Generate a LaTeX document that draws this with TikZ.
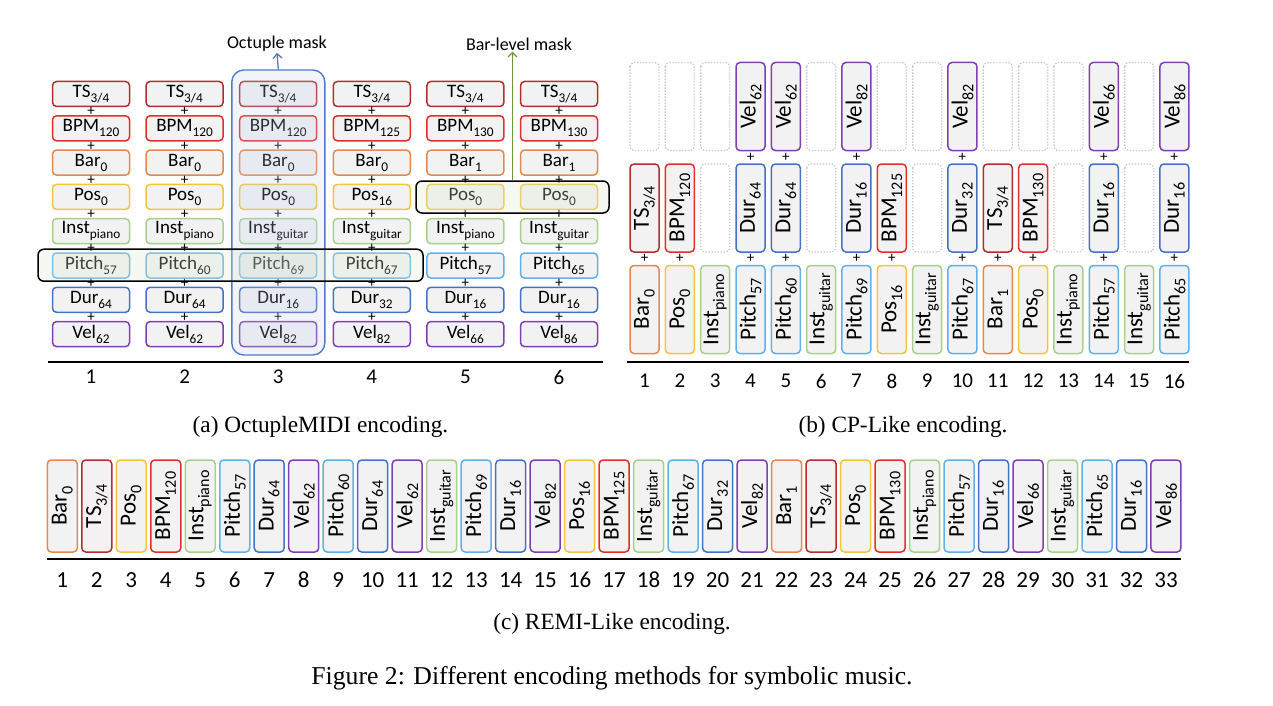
\documentclass[tikz,border=0pt]{standalone}
\usepackage{fontspec}
\setmainfont{Liberation Serif}
\newfontfamily\calfont{Carlito}
\usetikzlibrary{arrows.meta}
\definecolor{cTS}{HTML}{B22E2E}
\definecolor{cBPM}{HTML}{E0302A}
\definecolor{cBar}{HTML}{E3894F}
\definecolor{cPos}{HTML}{F2C53D}
\definecolor{cInst}{HTML}{A9CF8C}
\definecolor{cPitch}{HTML}{62B0E8}
\definecolor{cDur}{HTML}{4472C4}
\definecolor{cVel}{HTML}{7F3FB0}
\definecolor{cFill}{HTML}{F2F2F2}
\definecolor{octblue}{HTML}{4F7BC8}
\definecolor{maskgreen}{HTML}{DCEBCF}
\definecolor{arrgreen}{HTML}{6A9A3E}
\newcommand\sbx[1]{\raisebox{-0.25em}{\scalebox{0.7}{#1}}}
\newcommand\labTS[1]{TS\sbx{3/4}}
\newcommand\labBPM[1]{BPM\sbx{#1}}
\newcommand\labBar[1]{Bar\sbx{#1}}
\newcommand\labPos[1]{Pos\sbx{#1}}
\newcommand\labInst[1]{Inst\sbx{#1}}
\newcommand\labPitch[1]{Pitch\sbx{#1}}
\newcommand\labDur[1]{Dur\sbx{#1}}
\newcommand\labVel[1]{Vel\sbx{#1}}
\newcommand\labE[1]{}
\def\Eword{E}
\tikzset{
  tok/.style={draw, rounded corners=4pt, line width=1.5pt, fill=cFill, inner sep=0pt, text=black},
  kTS/.style={draw=cTS}, kBPM/.style={draw=cBPM}, kBar/.style={draw=cBar},
  kPos/.style={draw=cPos}, kInst/.style={draw=cInst}, kPitch/.style={draw=cPitch},
  kDur/.style={draw=cDur}, kVel/.style={draw=cVel},
  kE/.style={draw=gray!45, dash pattern=on 1.3pt off 1.7pt, line width=1.3pt, fill=none},
  abox/.style={tok, minimum width=77pt, minimum height=25pt, font=\calfont\fontsize{19}{21}\selectfont},
  bbox/.style={tok, minimum width=88pt, minimum height=29pt, rotate=90, font=\calfont\fontsize{23}{25}\selectfont},
  cbox/.style={tok, minimum width=92pt, minimum height=30pt, rotate=90, font=\calfont\fontsize{23}{25}\selectfont},
  plussign/.style={font=\calfont\fontsize{15}{16}\selectfont, inner sep=0pt},
  numlab/.style={font=\calfont\fontsize{21}{23}\selectfont, inner sep=0pt},
  numlabc/.style={font=\calfont\fontsize{23}{25}\selectfont, inner sep=0pt},
  captext/.style={font=\fontsize{23.3}{26}\selectfont, inner sep=0pt},
  masklab/.style={font=\calfont\fontsize{18}{20}\selectfont, inner sep=1pt},
}
\begin{document}
\begin{tikzpicture}[x=1pt,y=-1pt]
\useasboundingbox (0,0) rectangle (1273,706);
% ---------- (a) OctupleMIDI ----------
\foreach \c/\vA/\vB/\vC/\vD/\vE/\vF/\vG in {1/120/0/0/piano/57/64/62, 2/120/0/0/piano/60/64/62, 3/120/0/0/guitar/69/16/82, 4/125/0/16/guitar/67/32/82, 5/130/1/0/piano/57/16/66, 6/130/1/0/guitar/65/16/86}{
  \pgfmathsetmacro\x{91+93.6*(\c-1)}
  \node[abox,kTS]    (a\c r1) at (\x,94)    {\labTS{}};
  \node[abox,kBPM]   (a\c r2) at (\x,128.3) {\labBPM{\vA}};
  \node[abox,kBar]   (a\c r3) at (\x,162.6) {\labBar{\vB}};
  \node[abox,kPos]   (a\c r4) at (\x,196.9) {\labPos{\vC}};
  \node[abox,kInst]  (a\c r5) at (\x,231.2) {\labInst{\vD}};
  \node[abox,kPitch] (a\c r6) at (\x,265.5) {\labPitch{\vE}};
  \node[abox,kDur]   (a\c r7) at (\x,299.8) {\labDur{\vF}};
  \node[abox,kVel]   (a\c r8) at (\x,334.1) {\labVel{\vG}};
  \foreach \r in {1,...,7}{
    \node[plussign] (a\c p\r) at (\x,{111.6+34.3*(\r-1)}) {+};
  }
  \node[numlab] (an\c) at (\x,377) {\c};
}
\coordinate (aL) at (48,362);
\coordinate (aR) at (603,362);
\draw[line width=1.8pt] (aL) -- (aR);
% masks
\node[draw=octblue, line width=1.4pt, rounded corners=12pt, fill=octblue!35, fill opacity=0.22, minimum width=93pt, minimum height=285pt, inner sep=0pt] (octmask) at (278.3,212.5) {};
\node[draw=black, line width=1.5pt, rounded corners=6pt, fill=maskgreen, fill opacity=0.28, minimum width=385pt, minimum height=32pt, inner sep=0pt] (pitchmask) at (230.5,265.2) {};
\node[draw=black, line width=1.5pt, rounded corners=6pt, fill=maskgreen, fill opacity=0.28, minimum width=193pt, minimum height=32pt, inner sep=0pt] (barmask) at (512.5,197) {};
\node[masklab] (octlab) at (277,44) {Octuple mask};
\node[masklab] (barlab) at (519,44) {Bar-level mask};
\draw[octblue, line width=1.3pt, -{Straight Barb[length=4.5pt,width=9pt]}] (octmask.north) -- (octlab.south);
\draw[arrgreen, line width=1.3pt, -{Straight Barb[length=4.5pt,width=9pt]}] (barmask.north) -- (barmask.north |- barlab.south);
% ---------- (b) CP-Like ----------
\foreach \j/\Ta/\Va/\Tb/\Vb/\Tc/\Vc in {
1/E/x/TS/x/Bar/0,
2/E/x/BPM/120/Pos/0,
3/E/x/E/x/Inst/piano,
4/Vel/62/Dur/64/Pitch/57,
5/Vel/62/Dur/64/Pitch/60,
6/E/x/E/x/Inst/guitar,
7/Vel/82/Dur/16/Pitch/69,
8/E/x/BPM/125/Pos/16,
9/E/x/E/x/Inst/guitar,
10/Vel/82/Dur/32/Pitch/67,
11/E/x/TS/x/Bar/1,
12/E/x/BPM/130/Pos/0,
13/E/x/E/x/Inst/piano,
14/Vel/66/Dur/16/Pitch/57,
15/E/x/E/x/Inst/guitar,
16/Vel/86/Dur/16/Pitch/65}{
  \pgfmathsetmacro\x{644.5+35.33*(\j-1)}
  \node[bbox,k\Ta] (b\j t) at (\x,106.5) {\csname lab\Ta\endcsname{\Va}};
  \node[bbox,k\Tb] (b\j m) at (\x,208)   {\csname lab\Tb\endcsname{\Vb}};
  \node[bbox,k\Tc] (b\j b) at (\x,309.5) {\csname lab\Tc\endcsname{\Vc}};
  \edef\tmpA{\Ta}\edef\tmpB{\Tb}
  \ifx\tmpA\Eword\else \node[plussign] (b\j p1) at (\x,157.5) {+}; \fi
  \ifx\tmpB\Eword\else \node[plussign] (b\j p2) at (\x,258.8) {+}; \fi
  \node[numlab] (bn\j) at (\x,381) {\j};
}
\coordinate (bL) at (627,362);
\coordinate (bR) at (1189,362);
\draw[line width=1.8pt] (bL) -- (bR);
% ---------- (c) REMI-Like ----------
\foreach \k/\Tk/\Vk in {1/Bar/0, 2/TS/x, 3/Pos/0, 4/BPM/120, 5/Inst/piano, 6/Pitch/57, 7/Dur/64, 8/Vel/62, 9/Pitch/60, 10/Dur/64, 11/Vel/62, 12/Inst/guitar, 13/Pitch/69, 14/Dur/16, 15/Vel/82, 16/Pos/16, 17/BPM/125, 18/Inst/guitar, 19/Pitch/67, 20/Dur/32, 21/Vel/82, 22/Bar/1, 23/TS/x, 24/Pos/0, 25/BPM/130, 26/Inst/piano, 27/Pitch/57, 28/Dur/16, 29/Vel/66, 30/Inst/guitar, 31/Pitch/65, 32/Dur/16, 33/Vel/86}{
  \pgfmathsetmacro\x{62.3+34.49*(\k-1)}
  \node[cbox,k\Tk] (c\k) at (\x,506) {\csname lab\Tk\endcsname{\Vk}};
  \node[numlabc] (cn\k) at (\x,580) {\k};
}
\coordinate (cL) at (47,559);
\coordinate (cR) at (1181,559);
\draw[line width=2.2pt] (cL) -- (cR);
% ---------- captions ----------
\node[captext] (capa) at (320.5,427) {(a) OctupleMIDI encoding.};
\node[captext] (capb) at (903,427) {(b) CP-Like encoding.};
\node[captext] (capc) at (612,624) {(c) REMI-Like encoding.};
\node[font=\fontsize{25.7}{28}\selectfont, inner sep=0pt] (fig) at (612,678) {Figure 2: Different encoding methods for symbolic music.};
\end{tikzpicture}
\end{document}
